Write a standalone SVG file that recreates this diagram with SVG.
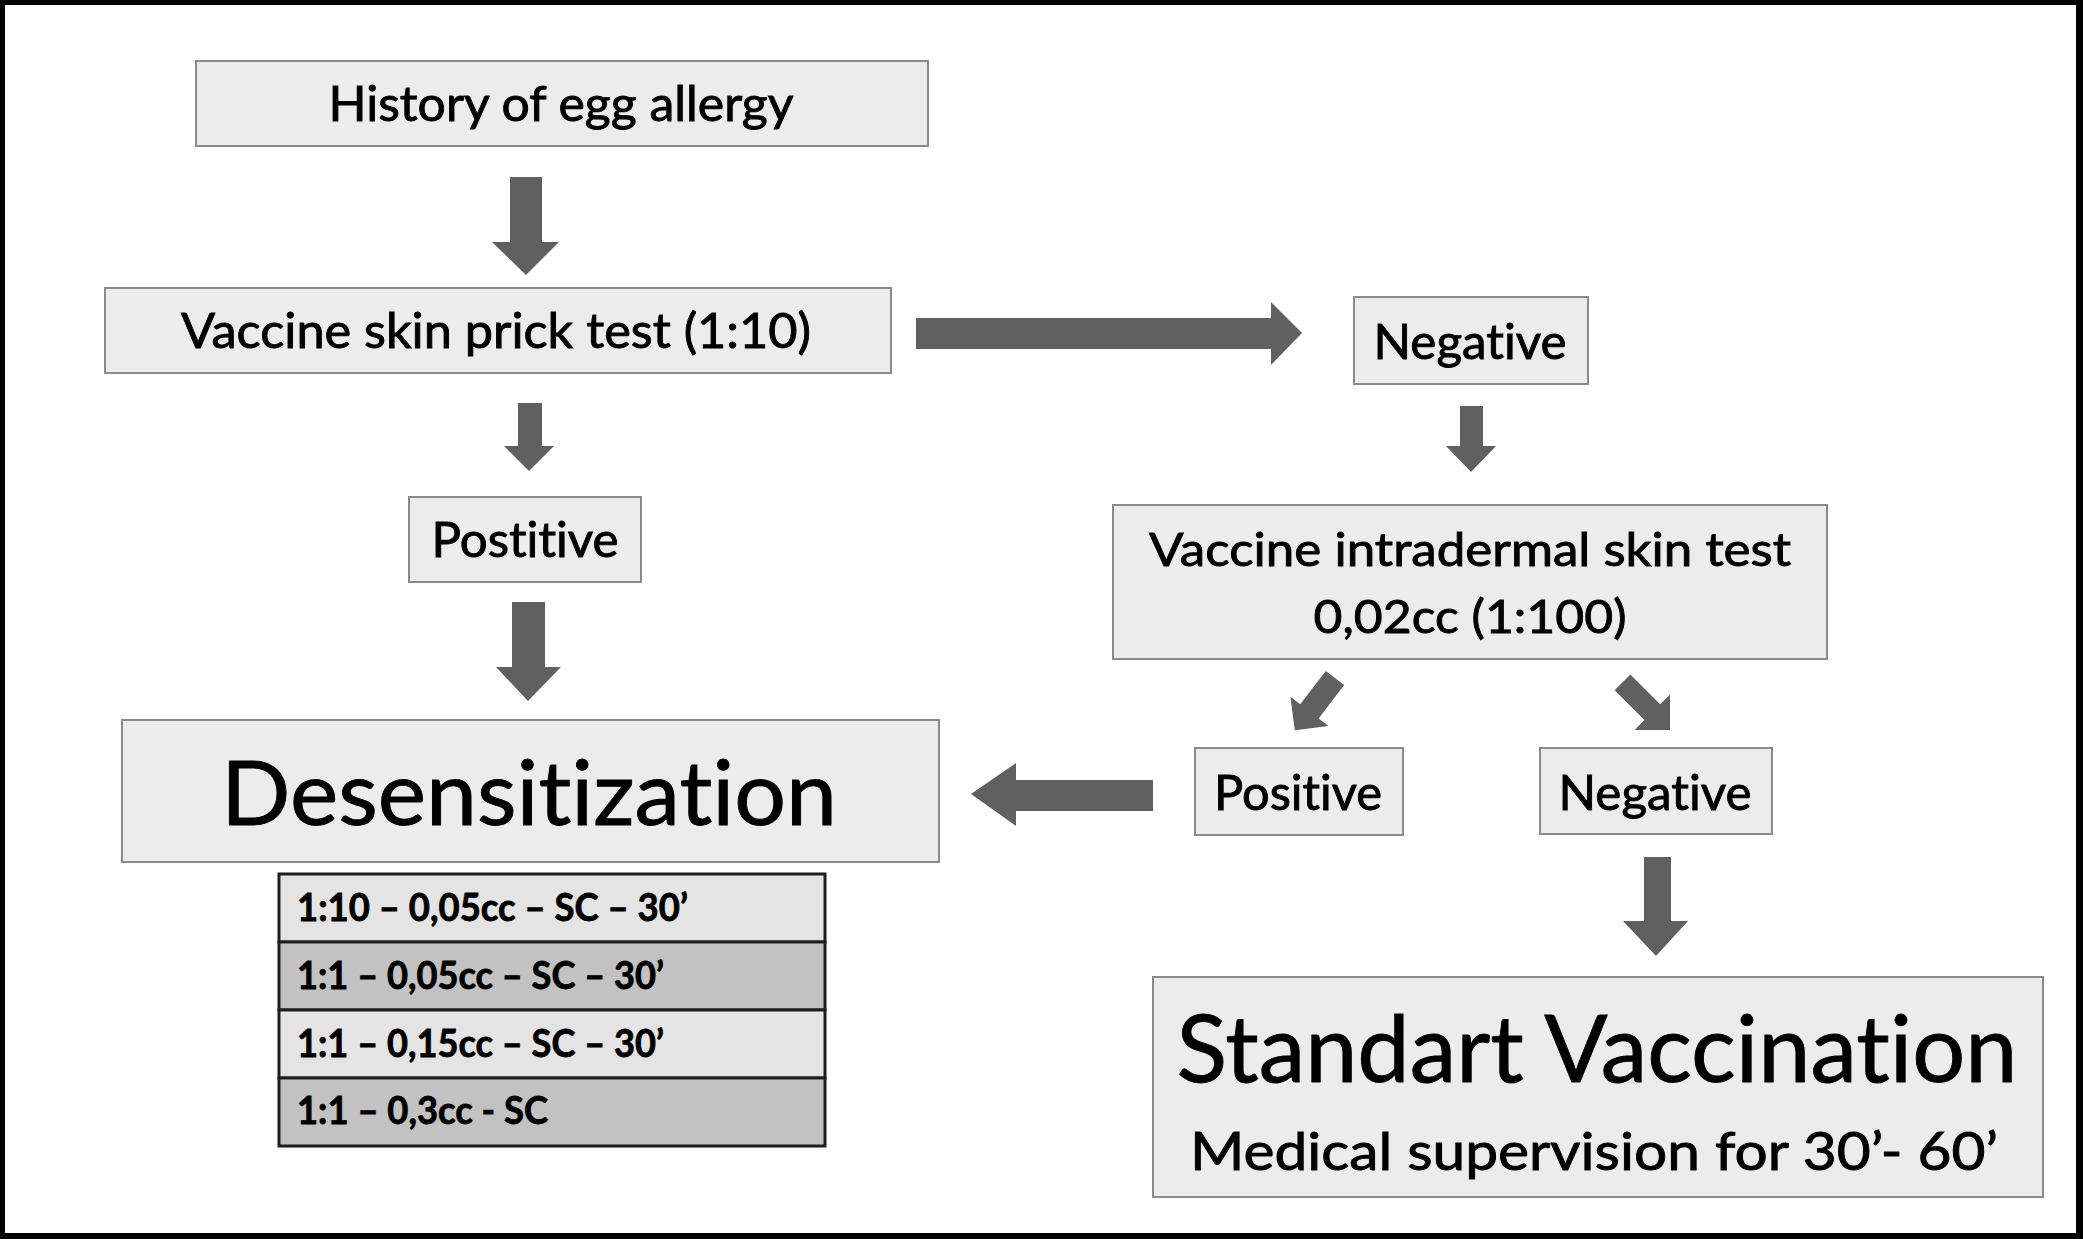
<svg xmlns="http://www.w3.org/2000/svg" width="2083" height="1239" viewBox="0 0 2083 1239">
<style>
.box{fill:#ececec;stroke:#8a8a8a;stroke-width:2}
.t{font-family:Lato,"Open Sans","Liberation Sans",sans-serif;fill:#000;stroke:#000;stroke-width:0.9;text-anchor:middle;font-variant-ligatures:none;font-feature-settings:"liga" 0,"clig" 0}
.tb{font-family:Lato,"Open Sans","Liberation Sans",sans-serif;fill:#000;stroke:#000;stroke-width:0.8;font-weight:bold;font-variant-ligatures:none;font-feature-settings:"liga" 0,"clig" 0}
.arr{fill:#606060}
.rowl{fill:#e4e4e4;stroke:#1e1e1e;stroke-width:3}
.rowd{fill:#c2c2c2;stroke:#1e1e1e;stroke-width:3}
</style>
<rect x="0" y="0" width="2083" height="1239" fill="#ffffff"/>
<path d="M0 0H2083V1239H0Z M5 5V1233H2076V5Z" fill="#000" fill-rule="evenodd"/>

<g id="history">
<rect class="box" x="196" y="61" width="732" height="85"/>
<text class="t" x="561" y="121" font-size="49" textLength="465" lengthAdjust="spacingAndGlyphs">History of egg allergy</text>
</g>
<g id="prick">
<rect class="box" x="105" y="288" width="786" height="85"/>
<text class="t" x="496" y="348" font-size="49" textLength="630" lengthAdjust="spacingAndGlyphs">Vaccine skin prick test (1:10)</text>
</g>
<g id="postitive">
<rect class="box" x="409" y="497" width="232" height="85"/>
<text class="t" x="525" y="557" font-size="48" textLength="187" lengthAdjust="spacingAndGlyphs">Postitive</text>
</g>
<g id="negative1">
<rect class="box" x="1354" y="297" width="234" height="87"/>
<text class="t" x="1470" y="359" font-size="49" textLength="193" lengthAdjust="spacingAndGlyphs">Negative</text>
</g>
<g id="intradermal">
<rect class="box" x="1113" y="505" width="714" height="154"/>
<text class="t" x="1470" y="566" font-size="47" textLength="642" lengthAdjust="spacingAndGlyphs">Vaccine intradermal skin test</text>
<text class="t" x="1470" y="633" font-size="47" textLength="313" lengthAdjust="spacingAndGlyphs">0,02cc (1:100)</text>
</g>
<g id="desensitization">
<rect class="box" x="122" y="720" width="817" height="142"/>
<text class="t" x="529" y="825" font-size="90" stroke-width="1.4" textLength="616" lengthAdjust="spacingAndGlyphs">Desensitization</text>
</g>
<g id="protocol">
<rect class="rowl" x="279" y="874" width="546" height="68"/>
<rect class="rowd" x="279" y="942" width="546" height="68"/>
<rect class="rowl" x="279" y="1010" width="546" height="68"/>
<rect class="rowd" x="279" y="1078" width="546" height="68"/>
<text class="tb" x="297" y="921" font-size="39" textLength="391" lengthAdjust="spacingAndGlyphs">1:10 – 0,05cc – SC – 30’</text>
<text class="tb" x="297" y="989" font-size="39" textLength="367" lengthAdjust="spacingAndGlyphs">1:1 – 0,05cc – SC – 30’</text>
<text class="tb" x="297" y="1057" font-size="39" textLength="367" lengthAdjust="spacingAndGlyphs">1:1 – 0,15cc – SC – 30’</text>
<text class="tb" x="297" y="1124" font-size="39" textLength="251" lengthAdjust="spacingAndGlyphs">1:1 – 0,3cc - SC</text>
</g>
<g id="positive2">
<rect class="box" x="1195" y="748" width="208" height="87"/>
<text class="t" x="1298" y="810" font-size="49" textLength="168" lengthAdjust="spacingAndGlyphs">Positive</text>
</g>
<g id="negative2">
<rect class="box" x="1540" y="748" width="232" height="86"/>
<text class="t" x="1655" y="810" font-size="49" textLength="193" lengthAdjust="spacingAndGlyphs">Negative</text>
</g>
<g id="standart">
<rect class="box" x="1153" y="977" width="890" height="220"/>
<text class="t" x="1597" y="1082" font-size="94" stroke-width="1.4" textLength="841" lengthAdjust="spacingAndGlyphs">Standart Vaccination</text>
<text class="t" x="1594" y="1170" font-size="52" textLength="808" lengthAdjust="spacingAndGlyphs">Medical supervision for 30’- 60’</text>
</g>

<g id="connectors">
<polygon class="arr" points="510,177 542,177 542,242 559,242 526,275 492,242 510,242"/>
<polygon class="arr" points="518,403 542,403 542,446 554,446 529,471 504,446 518,446"/>
<polygon class="arr" points="512,602 545,602 545,667 561,667 528,701 496,667 512,667"/>
<polygon class="arr" points="916,318 1271,318 1271,302 1302,333 1271,365 1271,349 916,349"/>
<polygon class="arr" points="1460,406 1483,406 1483,446 1496,446 1471,472 1446,446 1460,446"/>
<polygon class="arr" points="1153,780 1153,811 1016,811 1016,826 971,794 1016,763 1016,780"/>
<polygon class="arr" points="1644,857 1671,857 1671,921 1688,921 1656,956 1623,921 1644,921"/>
<polygon class="arr" points="1344.2,685.1 1318.6,718.4 1328.4,725.9 1294.8,730.3 1290.4,696.7 1300.2,704.2 1325.8,670.9"/>
<polygon class="arr" points="1630.4,674.5 1660.2,704.3 1670,694.5 1670,729.9 1634.6,729.9 1644.4,720.1 1614.6,690.3"/>
</g>
</svg>
